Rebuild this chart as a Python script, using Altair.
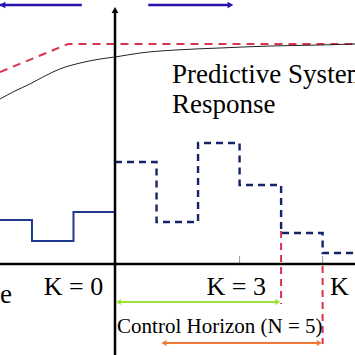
import altair as alt
import pandas as pd

# Sample index k: each step is one control interval; K = 0 is the present instant.
# Vertical units are arbitrary signal levels; 0 sits on the time axis.

# past control moves (solid)
past_k = [-2.77, -2.0, -1.0, 0.0]
past_u = [44, 23, 52, 52]

# predicted future control moves (dashed)
future_k = [0, 1, 2, 3, 4, 5, 5.78]
future_u = [102, 42, 121, 79, 31, 11, 11]

# reference trajectory (red dashed)
ref_k = [-2.77, -1.13, 5.78]
ref_y = [192, 220, 220]

# predicted system response (thin black curve)
resp_k = [-2.77, -2.41, -2.05, -1.69, -1.33, -0.84, -0.36, 0.0, 0.6, 1.45, 2.53, 3.73, 4.94, 5.78]
resp_y = [165, 173, 180, 188, 195, 201, 205, 207, 211, 214, 216, 218, 219, 220]

X_DOM = [-2.77, 5.78]
Y_DOM = [-91, 264]

x = alt.X("k:Q", scale=alt.Scale(domain=X_DOM, nice=False, zero=False), axis=None)
y = alt.Y("v:Q", scale=alt.Scale(domain=Y_DOM, nice=False, zero=False), axis=None)
x2 = alt.X2("k2:Q")
y2 = alt.Y2("v2:Q")


def df(**cols):
    return pd.DataFrame(cols)


SERIF = "'Liberation Serif', 'Times New Roman', 'DejaVu Serif', serif"

past = alt.Chart(df(k=past_k, v=past_u)).mark_line(
    interpolate="step-after", color="#1f3b8f", strokeWidth=2
).encode(x=x, y=y)

future = alt.Chart(df(k=future_k, v=future_u)).mark_line(
    interpolate="step-after", color="#14246a", strokeWidth=2.4, strokeDash=[7, 5]
).encode(x=x, y=y)

reference = alt.Chart(df(k=ref_k, v=ref_y)).mark_line(
    color="#d8334f", strokeWidth=2, strokeDash=[8, 6]
).encode(x=x, y=y)

response = alt.Chart(df(k=resp_k, v=resp_y)).mark_line(
    color="#222222", strokeWidth=1, interpolate="monotone"
).encode(x=x, y=y)

# coordinate axes
axes = alt.Chart(df(k=[-2.77, 0.0], k2=[5.78, 0.0], v=[0, -91], v2=[0, 253])).mark_rule(
    color="black", strokeWidth=2.5
).encode(x=x, x2=x2, y=y, y2=y2)

axis_head = alt.Chart(df(k=[0.0], v=[254])).mark_point(
    shape="triangle-up", filled=True, color="black", size=45, opacity=1
).encode(x=x, y=y)

# small tick marks on the time axis
ticks = alt.Chart(df(k=[3.0, 5.0], k2=[3.0, 5.0], v=[0, 0], v2=[8, 8])).mark_rule(
    color="#999999", strokeWidth=1
).encode(x=x, x2=x2, y=y, y2=y2)

# horizon boundaries
horizon_lines = alt.Chart(df(k=[4.0, 5.0], k2=[4.0, 5.0], v=[33, -2], v2=[-40, -80])).mark_rule(
    color="#d8334f", strokeWidth=2, strokeDash=[7, 5]
).encode(x=x, x2=x2, y=y, y2=y2)

# arrows: shafts
arrows = pd.DataFrame({
    "k": [-2.77, 0.8, 0.06, 1.16],
    "k2": [-0.8, 2.74, 3.92, 4.92],
    "v": [259, 259, -38, -79],
    "v2": [259, 259, -38, -79],
    "c": ["#2613b0", "#2613b0", "#9be33c", "#f07a3c"],
    "w": [2.6, 2.6, 1.8, 1.8],
})
shafts = alt.Chart(arrows).mark_rule().encode(
    x=x, x2=x2, y=y, y2=y2,
    color=alt.Color("c:N", scale=None),
    strokeWidth=alt.StrokeWidth("w:Q", scale=None),
)

heads = pd.DataFrame({
    "k": [-2.71, 2.78, 0.08, 3.92, 1.18, 4.92],
    "v": [259, 259, -38, -38, -79, -79],
    "s": ["triangle-left", "triangle-right", "triangle-left", "triangle-right",
          "triangle-left", "triangle-right"],
    "c": ["#2613b0", "#2613b0", "#9be33c", "#9be33c", "#f07a3c", "#f07a3c"],
    "z": [45, 45, 35, 35, 35, 35],
})
arrow_heads = alt.Chart(heads).mark_point(filled=True, opacity=1).encode(
    x=x, y=y,
    shape=alt.Shape("s:N", scale=None),
    color=alt.Color("c:N", scale=None),
    size=alt.Size("z:Q", scale=None),
)

# text annotations
labels = pd.DataFrame({
    "k": [1.37, 1.37, -1.0, 2.92, 5.18, 0.05, -2.48],
    "v": [181, 151, -31, -31, -31, -69, -39],
    "t": ["Predictive System", "Response", "K = 0", "K = 3", "K = 5",
          "Control Horizon (N = 5)", "Time"],
    "a": ["left", "left", "center", "center", "left", "left", "right"],
    "s": [27, 27, 26, 26, 26, 21, 27],
})
text_layers = []
for align in ["left", "center", "right"]:
    for size in sorted(set(labels["s"])):
        sub = labels[(labels["a"] == align) & (labels["s"] == size)]
        if len(sub) == 0:
            continue
        text_layers.append(
            alt.Chart(sub).mark_text(
                align=align, baseline="alphabetic", font=SERIF, fontSize=int(size),
                color="black",
            ).encode(x=x, y=y, text="t:N")
        )

chart = alt.layer(
    reference, response, past, future, horizon_lines, ticks, axes, axis_head,
    shafts, arrow_heads, *text_layers,
).properties(
    width=355, height=355, padding=0, autosize=alt.AutoSizeParams(type="none"),
    background="white",
).configure_view(stroke=None)

chart.save("out.html", embed_options={"renderer": "svg", "actions": False})
